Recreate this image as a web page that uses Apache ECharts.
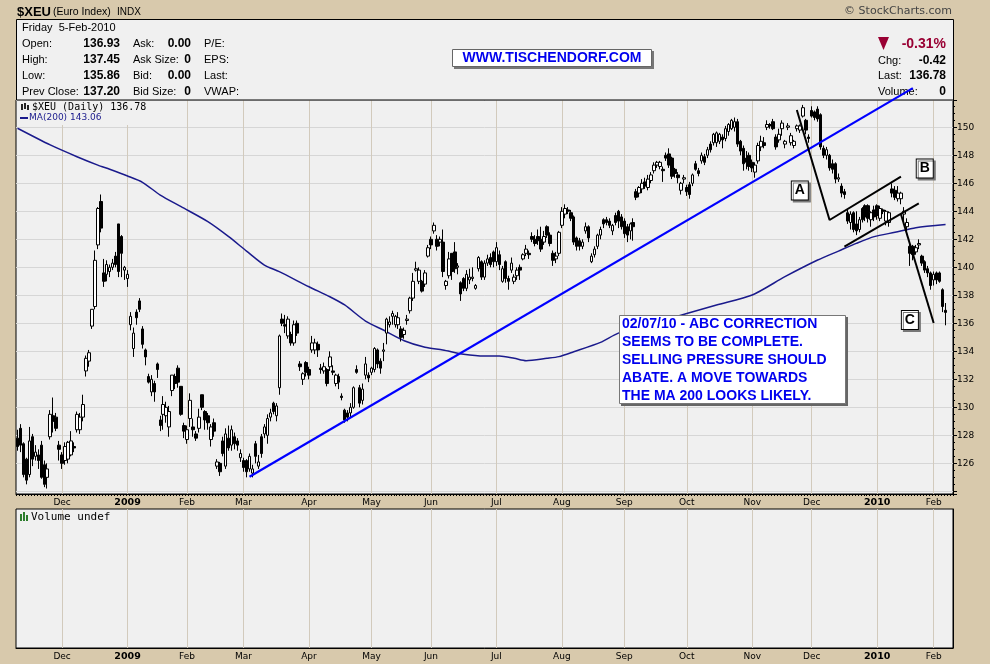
<!DOCTYPE html>
<html><head><meta charset="utf-8">
<script src="https://cdn.jsdelivr.net/npm/echarts@6/dist/echarts.min.js"></script>
<style>html,body{margin:0;padding:0;background:#D8C9AC;}#chart{width:990px;height:664px;}</style>
</head><body><div id="chart"></div>
<script>
// ---------- DATA ----------
const firstDay = '2008-11-07';
const lastDay = '2010-02-05';
const holidays = ['2008-11-27','2008-12-25','2009-01-01','2009-01-19','2009-02-16','2009-04-10','2009-05-25','2009-07-03','2009-09-07','2009-11-26','2009-12-25','2010-01-01','2010-01-18'];
const monthNames = ['Jan','Feb','Mar','Apr','May','Jun','Jul','Aug','Sep','Oct','Nov','Dec'];

// daily OHLC
const opens = [127.8,128.5,127.4,126.3,125.2,127.9,126.5,126.6,127.3,125.9,125.0,127.9,129.4,129.3,127.3,126.6,126.2,126.3,126.6,127.2,128.4,128.4,129.3,132.6,133.3,135.8,137.2,141.6,144.7,139.6,139.5,139.7,140.0,140.8,143.1,142.2,139.8,139.2,
135.9,134.2,136.8,137.6,135.6,134.1,132.2,131.1,131.7,133.1,129.1,129.5,129.4,128.6,131.2,132.2,132.8,131.5,128.7,127.7,129.2,128.6,128.1,128.5,130.9,129.7,129.4,127.7,128.9,125.8,126.0,127.6,125.8,127.8,127.3,127.9,127.6,126.4,126.2,126.2,
125.6,125.3,127.4,125.8,127.9,128.1,128.0,129.3,130.3,129.4,131.4,136.3,135.9,135.1,135.2,134.6,136.0,133.1,132.0,133.2,132.7,134.1,134.1,134.5,132.8,132.6,132.7,132.9,132.6,131.7,132.2,130.8,129.8,129.6,129.6,130.0,132.7,131.4,130.5,132.3,
132.3,132.5,132.7,134.1,133.3,134.0,135.3,135.9,136.5,135.9,135.9,135.6,135.2,136.2,136.9,137.8,139.8,139.0,139.0,138.8,140.8,142.0,142.6,142.0,141.8,141.8,138.7,139.4,141.0,141.1,140.0,138.9,139.2,138.5,139.1,139.2,138.5,139.9,140.4,
139.3,140.3,140.7,141.1,140.4,140.9,139.0,140.4,139.2,139.8,139.0,139.4,140.0,140.6,141.0,141.0,142.2,142.0,142.2,142.0,141.8,142.9,142.3,141.0,140.6,141.0,143.0,143.8,144.1,143.9,143.6,142.1,141.9,141.5,142.6,142.9,140.4,140.9,141.5,142.3,
143.4,143.4,143.3,142.6,143.7,144.0,143.6,143.3,142.9,142.6,143.2,145.4,145.3,145.6,146.1,145.7,146.2,146.9,147.3,147.2,147.0,148.0,148.1,147.8,147.0,146.6,145.5,146.3,145.7,145.9,146.0,147.4,146.9,147.6,147.9,148.0,148.8,148.9,148.9,149.0,
149.3,149.2,149.7,149.9,150.0,150.4,149.0,148.5,147.8,148.0,147.5,146.8,147.6,148.6,148.9,150.0,150.2,150.4,149.3,149.1,149.9,148.8,150.0,148.9,148.7,149.9,149.8,150.8,150.5,149.3,151.2,151.1,151.3,150.9,148.5,148.0,148.0,147.4,147.4,146.3,
145.8,145.4,143.9,143.2,143.9,143.1,142.7,144.2,144.4,144.4,143.4,144.1,144.4,143.5,144.1,143.3,143.2,145.6,145.5,144.9,144.9,143.8,142.9,141.5,141.5,141.1,141.6,140.8,140.4,139.9,139.6,139.1,139.6,139.6,138.4,136.93];
const highs = [128.4,128.8,127.5,126.4,128.6,128.1,127.3,127.0,127.6,126.2,126.0,129.8,130.7,129.6,127.6,126.8,127.5,127.6,128.3,127.5,129.7,129.6,130.9,133.7,134.1,137.0,141.2,144.3,145.2,140.6,140.5,140.2,140.6,141.1,143.1,142.3,140.1,139.8,
136.8,135.7,137.0,137.8,135.8,134.2,132.4,132.3,131.9,133.2,129.4,130.8,130.4,130.1,132.3,132.4,133.0,131.5,128.9,128.7,131.0,129.2,128.3,129.9,130.9,129.8,129.6,128.8,129.2,126.3,126.1,127.9,128.5,128.7,128.7,128.2,127.8,127.0,126.4,126.3,
126.7,125.9,127.6,126.6,128.1,128.8,129.5,129.9,130.4,130.3,135.2,136.7,136.6,136.5,135.4,136.2,136.2,133.3,132.5,133.3,132.9,135.1,134.9,134.7,133.1,133.2,132.8,134.0,133.0,132.4,132.4,131.0,129.9,129.8,130.3,131.5,133.0,131.6,131.7,133.6,
132.5,132.9,134.3,134.2,133.5,134.6,136.4,136.5,136.9,136.6,136.8,135.8,135.7,136.6,137.9,139.6,140.4,140.0,139.1,139.8,141.6,142.2,143.2,142.3,142.2,142.7,139.1,141.1,141.0,141.8,140.3,139.0,139.3,139.8,139.9,140.0,138.8,140.8,140.5,
140.5,140.9,141.0,141.2,141.8,141.2,140.1,140.5,139.4,140.7,139.5,140.0,140.2,141.0,141.6,141.2,142.5,142.3,142.7,142.9,142.6,143.0,142.5,141.2,141.1,142.6,144.3,144.5,144.3,144.1,143.7,142.2,142.1,142.0,143.2,143.0,141.0,141.5,142.4,142.9,
143.5,143.6,143.5,143.1,143.9,144.1,143.8,143.5,143.1,143.2,143.5,145.6,145.8,146.3,146.4,146.6,146.8,147.5,147.6,147.6,147.2,148.2,148.5,147.9,147.1,146.8,146.1,146.6,145.9,146.1,146.7,147.6,147.1,148.2,148.1,148.6,149.0,149.6,149.7,149.6,
149.5,150.1,150.3,150.6,150.7,150.6,149.1,148.7,148.3,148.2,147.7,147.5,148.9,149.4,149.3,150.5,150.3,150.6,149.5,149.9,150.5,149.1,150.3,149.6,149.1,150.2,150.2,151.6,150.6,149.5,151.5,151.2,151.5,151.0,148.7,148.6,148.1,147.7,147.5,146.7,
146.0,145.6,144.1,144.0,144.0,144.0,143.6,144.3,144.5,144.5,144.0,144.4,144.5,144.4,144.2,144.1,144.0,146.0,145.8,145.8,145.4,144.3,143.5,141.7,141.6,141.6,142.0,140.9,140.5,140.1,139.7,139.7,139.7,139.7,138.5,137.45];
const lows = [126.9,126.8,125.0,124.5,125.0,125.8,126.2,125.6,124.9,124.3,124.2,127.7,128.2,128.3,126.2,125.6,125.9,126.0,126.5,126.8,128.2,128.1,129.0,132.2,132.9,135.6,137.0,141.3,142.5,138.6,139.0,139.3,139.8,140.0,139.3,139.3,139.1,138.6,
135.5,133.6,135.9,136.8,134.2,133.0,131.7,130.8,130.4,132.1,128.3,128.4,128.9,127.9,130.8,131.3,131.4,129.4,127.8,127.4,128.6,127.9,127.6,128.2,129.8,128.4,128.4,127.2,127.9,125.6,125.1,126.5,125.6,126.9,126.9,127.0,126.9,126.1,125.4,125.0,
125.4,125.0,126.0,125.6,126.4,127.8,127.4,129.0,129.5,129.0,130.9,135.8,135.3,134.9,134.4,134.4,135.1,132.6,131.6,132.2,132.0,133.9,133.8,133.6,132.4,132.4,131.5,132.6,132.3,131.5,131.3,130.5,128.9,129.0,129.3,129.9,132.4,130.0,130.2,132.0,
131.8,132.3,132.5,132.8,132.4,133.3,134.5,135.7,135.9,135.7,135.6,134.7,134.9,135.9,136.7,137.6,139.7,138.8,138.2,138.6,140.7,141.3,142.4,141.2,141.5,139.3,138.4,139.2,139.1,139.6,139.5,137.6,138.3,138.3,138.8,139.0,138.4,139.7,139.1,
139.1,140.1,140.0,140.0,140.1,139.8,138.9,138.9,138.4,139.6,138.8,139.1,139.1,140.5,140.8,140.6,141.8,141.5,141.6,141.1,141.6,142.1,141.5,140.1,140.3,140.8,142.8,143.5,143.8,143.3,141.6,141.2,141.2,141.3,142.4,141.8,140.3,140.7,141.3,142.0,
142.8,143.0,142.8,142.3,143.0,142.8,142.7,142.1,141.8,142.0,141.9,144.8,145.0,145.3,145.6,145.5,146.0,146.7,147.1,147.0,146.1,147.6,147.1,146.3,146.4,146.0,145.2,146.0,145.1,144.9,145.8,146.9,146.5,147.4,147.3,147.8,148.2,148.7,148.6,148.8,
148.5,149.0,149.4,149.8,149.7,148.6,148.0,146.9,147.0,146.9,146.8,146.4,147.4,148.3,148.5,149.8,149.9,149.8,148.4,148.9,149.4,148.5,149.8,148.7,148.5,149.7,149.6,150.7,149.5,148.9,150.7,150.5,150.4,148.4,147.8,147.7,146.9,146.7,146.0,146.1,
145.0,144.9,143.1,142.7,142.5,142.3,142.5,143.2,143.3,143.2,142.9,143.3,143.4,143.3,143.8,143.0,142.9,145.0,144.8,144.7,144.5,143.3,142.6,140.1,140.5,140.9,141.3,140.1,139.6,139.3,138.4,138.7,138.8,138.9,136.8,135.86];
const closes = [127.2,127.3,125.2,124.8,127.6,126.3,126.8,126.2,125.0,124.5,125.6,129.5,129.0,128.5,127.0,126.0,127.2,127.5,127.6,127.1,129.5,129.3,130.2,133.5,133.9,137.0,140.5,144.2,142.8,139.0,140.2,140.0,140.3,140.2,139.7,141.0,140.0,139.5,
136.5,135.3,136.4,137.0,134.5,133.6,131.8,132.0,131.1,132.7,128.7,130.2,130.0,129.7,132.3,131.7,131.8,129.5,128.3,128.4,130.5,128.4,127.8,129.3,130.0,129.1,128.9,128.6,128.3,126.1,125.4,126.7,128.1,127.1,128.4,127.4,127.3,126.7,125.7,125.4,
126.5,125.6,126.5,126.1,126.7,128.6,129.2,129.6,129.7,130.1,135.1,136.0,135.8,136.3,134.6,135.9,135.3,132.9,132.4,132.5,132.3,134.6,134.6,134.1,132.7,132.9,131.7,133.6,132.5,132.3,131.8,130.7,129.1,129.3,130.0,131.4,132.5,130.3,131.3,133.1,
132.1,132.8,134.2,133.1,132.8,134.1,136.3,136.1,136.7,136.5,136.4,135.0,135.5,136.3,137.8,139.0,139.9,139.8,138.3,139.6,141.4,141.6,143.0,141.5,142.0,139.7,139.0,140.6,139.7,139.9,140.1,138.1,138.5,139.5,139.3,139.3,138.7,140.7,139.3,
140.3,140.6,140.2,140.4,141.4,140.2,139.9,139.2,139.0,140.3,139.3,139.8,139.8,140.9,141.3,140.9,142.0,141.7,141.9,141.3,142.2,142.3,141.7,140.5,140.8,142.5,144.0,144.2,144.0,143.5,141.8,141.5,141.5,141.8,142.9,142.1,140.8,141.3,142.3,142.7,
143.1,143.2,143.0,143.0,143.2,143.3,142.9,142.4,142.3,143.1,142.9,145.0,145.7,146.0,145.8,146.3,146.6,147.3,147.5,147.5,146.9,147.8,147.3,146.5,146.7,146.4,146.0,146.4,145.4,145.2,146.6,147.0,146.7,148.0,147.5,148.4,148.4,149.5,149.6,149.5,
149.1,149.9,150.2,150.5,150.4,148.8,148.3,147.4,147.5,147.2,147.1,147.3,148.7,149.0,148.7,150.2,150.1,149.9,148.6,149.5,150.3,149.0,150.1,149.4,149.0,150.1,150.1,151.4,149.8,149.2,150.8,150.7,150.6,148.6,148.0,148.4,147.1,147.0,146.3,146.4,
145.3,145.2,143.3,143.8,142.7,142.6,143.4,143.4,143.6,143.5,143.9,143.6,143.7,144.2,144.0,144.0,143.9,145.3,145.0,145.3,145.3,144.0,143.2,141.0,140.9,141.4,141.7,140.3,139.8,139.6,138.7,139.5,139.1,139.0,137.2,136.78];

// MA(200): [trading-day index, value]
const ma200 = [[0,149.93],[11,148.74],[20,147.9],[27,147.3],[31,147.0],[37,146.52],[42,146.07],[48,145.16],[55,144.33],[64,143.26],[71,142.19],[77,141.16],[83,140.16],[88,139.69],[98,138.61],[105,137.9],[110,137.31],[117,136.16],[123,135.52],[130,134.76],[137,134.29],[143,134.09],[150,133.79],[157,133.66],[162,133.66],[167,133.5],[171,133.33],[178,133.5],[182,133.62],[187,133.97],[196,134.64],[202,135.3],[212,135.9],[225,136.7],[235,137.31],[247,138.02],[258,139.33],[269,140.52],[276,141.16],[282,141.71],[288,142.19],[295,142.5],[302,142.83],[312,143.06]];

// hand-drawn annotation lines [day index, price]
const trendLine = [[78,125.04],[301,152.8]];
const lineAB = [[262,151.24],[273,143.38],[297,146.47]];
const lineLower = [[278,141.47],[303,144.57]];
const lineC = [[297,143.79],[308,136.02]];
const waveLabels = [['A',263,145.49],['B',305,147.06],['C',300,136.24]];

const yMin = 123.81, yMax = 151.95;
const quote = {day:'Friday  5-Feb-2010', open:'136.93', high:'137.45', low:'135.86', prev:'137.20', ask:'0.00', askSize:'0', bid:'0.00', bidSize:'0', pct:'-0.31%', chg:'-0.42', last:'136.78', volume:'0', ma:'143.06'};
const noteLines = ['02/07/10 - ABC CORRECTION','SEEMS TO BE COMPLETE.','SELLING PRESSURE SHOULD','ABATE. A MOVE TOWARDS','THE MA 200 LOOKS LIKELY.'];

// ---------- BUILD ----------
function buildDates(){
  const out=[]; let t=Date.parse(firstDay+'T00:00:00Z'); const end=Date.parse(lastDay+'T00:00:00Z');
  while(t<=end){ const d=new Date(t); const wd=d.getUTCDay(); const s=d.toISOString().slice(0,10);
    if(wd!==0&&wd!==6&&holidays.indexOf(s)<0) out.push(s); t+=86400000; }
  return out;
}
const dates = buildDates();
const cats = dates.concat(['pad1','pad2']);
const monthStart = cats.map((d,i)=> i>0 && i<dates.length && d.slice(0,7)!==cats[i-1].slice(0,7));
const candleData = dates.map((d,i)=>[opens[i],closes[i],lows[i],highs[i]]);

const LBL = '"DejaVu Sans", Verdana, sans-serif';
const ARIAL = '"Liberation Sans", Arial, sans-serif';
const panel = '#F0F0F0';

function xAxisFor(grid){
  return {
    type:'category', gridIndex:grid, data:cats, boundaryGap:true,
    axisLine:{show:true,lineStyle:{color:'#000',width:1}},
    axisTick:{show:grid===0, interval:0, length:2, lineStyle:{color:'#000'}},
    axisLabel:{show:true, interval:(i)=>monthStart[i], margin:4, fontFamily:LBL, fontSize:9, color:'#000',
      formatter:(v)=>{ const m=+v.slice(5,7); return m===1 ? '{y|'+v.slice(0,4)+'}' : monthNames[m-1]; },
      rich:{y:{fontFamily:LBL,fontSize:9.5,fontWeight:'bold',color:'#000'}}},
    splitLine:{show:true, interval:(i)=>monthStart[i], alignWithLabel:true, lineStyle:{color:'#D2CABC',width:1}}
  };
}

const T = (x,y,text,font,fill,align,z)=>({type:'text', x:x, y:y, z:z||5, style:{text:text, font:font, fill:fill||'#000', align:align||'left', verticalAlign:'middle'}});

const graphics = [
  {type:'rect', z:1, shape:{x:16.5,y:19.5,width:937,height:80.5}, style:{fill:panel, stroke:'#000', lineWidth:1}},
  T(17,12,'$XEU','bold 13px '+ARIAL),
  T(53,12,'(Euro Index)','10.5px '+ARIAL),
  T(117,12,'INDX','10px '+ARIAL),
  T(952,11,'\u00A9 StockCharts.com','11px '+LBL,'#444','right'),
  T(22,28,quote.day,'11px '+ARIAL),
  T(22,44,'Open:','11px '+ARIAL), T(120,44,quote.open,'bold 12px '+ARIAL,'#000','right'),
  T(22,60,'High:','11px '+ARIAL), T(120,60,quote.high,'bold 12px '+ARIAL,'#000','right'),
  T(22,76,'Low:','11px '+ARIAL), T(120,76,quote.low,'bold 12px '+ARIAL,'#000','right'),
  T(22,92,'Prev Close:','11px '+ARIAL), T(120,92,quote.prev,'bold 12px '+ARIAL,'#000','right'),
  T(133,44,'Ask:','11px '+ARIAL), T(191,44,quote.ask,'bold 12px '+ARIAL,'#000','right'),
  T(133,60,'Ask Size:','11px '+ARIAL), T(191,60,quote.askSize,'bold 12px '+ARIAL,'#000','right'),
  T(133,76,'Bid:','11px '+ARIAL), T(191,76,quote.bid,'bold 12px '+ARIAL,'#000','right'),
  T(133,92,'Bid Size:','11px '+ARIAL), T(191,92,quote.bidSize,'bold 12px '+ARIAL,'#000','right'),
  T(204,44,'P/E:','11px '+ARIAL), T(204,60,'EPS:','11px '+ARIAL), T(204,76,'Last:','11px '+ARIAL), T(204,92,'VWAP:','11px '+ARIAL),
  {type:'polygon', z:5, shape:{points:[[878,37],[889,37],[883.5,50]]}, style:{fill:'#990033'}},
  T(946,44,quote.pct,'bold 14px '+ARIAL,'#990033','right'),
  T(878,61,'Chg:','11px '+ARIAL), T(946,61,quote.chg,'bold 12px '+ARIAL,'#000','right'),
  T(878,76,'Last:','11px '+ARIAL), T(946,76,quote.last,'bold 12px '+ARIAL,'#000','right'),
  T(878,92,'Volume:','11px '+ARIAL), T(946,92,quote.volume,'bold 12px '+ARIAL,'#000','right'),
  // website box
  {type:'rect', z:5, shape:{x:454,y:51,width:200,height:18}, style:{fill:'#777'}},
  {type:'rect', z:5, shape:{x:452.5,y:49.5,width:199,height:17}, style:{fill:'#fff', stroke:'#666', lineWidth:1}},
  T(552,58.5,'WWW.TISCHENDORF.COM','bold 14px '+ARIAL,'#0000EE','center',6),
  // legend in price panel
  {type:'rect', z:5, shape:{x:17,y:101,width:128,height:24}, style:{fill:panel}},
  {type:'rect', z:6, shape:{x:21,y:104,width:2,height:6}, style:{fill:'#222'}},
  {type:'rect', z:6, shape:{x:24,y:103,width:2,height:6}, style:{fill:'#222'}},
  {type:'rect', z:6, shape:{x:27,y:105,width:2,height:5}, style:{fill:'#222'}},
  T(32,107,'$XEU (Daily) '+quote.last,'10px "DejaVu Sans Mono", monospace','#000','left',6),
  {type:'rect', z:6, shape:{x:20,y:117,width:8,height:2}, style:{fill:'#1a1a8c'}},
  T(29,118,'MA(200) '+quote.ma,'9px '+LBL,'#1a1a8c','left',6),
  // volume panel legend
  {type:'rect', z:6, shape:{x:20,y:514,width:2,height:7}, style:{fill:'#2d7d2d'}},
  {type:'rect', z:6, shape:{x:23,y:512,width:2,height:9}, style:{fill:'#2d7d2d'}},
  {type:'rect', z:6, shape:{x:26,y:515,width:2,height:6}, style:{fill:'#2d7d2d'}},
  T(31,517,'Volume undef','11px "DejaVu Sans Mono", monospace','#000','left',6),
  // note box
  {type:'rect', z:50, shape:{x:621,y:317,width:227,height:89}, style:{fill:'#666'}},
  {type:'rect', z:50, shape:{x:619.5,y:315.5,width:226,height:88}, style:{fill:'#fff', stroke:'#777', lineWidth:1}}
].concat(noteLines.map((s,k)=>T(622,324.5+k*17.9,s,'bold 14px '+ARIAL,'#0000EE','left',51)));

const lineStyleBlack = {color:'#000', width:2};
const option = {
  animation:false,
  backgroundColor:'#D8C9AC',
  grid:[
    {left:16, top:100, width:937, height:394, show:true, backgroundColor:panel, borderColor:'#000', borderWidth:1},
    {left:16, top:509, width:937, height:139, show:true, backgroundColor:panel, borderColor:'#000', borderWidth:1}
  ],
  xAxis:[xAxisFor(0), xAxisFor(1)],
  yAxis:[
    {type:'value', gridIndex:0, position:'right', min:yMin, max:yMax, splitNumber:14, scale:true,
     axisLine:{show:true,lineStyle:{color:'#000'}},
     axisTick:{show:true,length:4,lineStyle:{color:'#000'}},
     minorTick:{show:true,splitNumber:4,length:2,lineStyle:{color:'#000'}},
     axisLabel:{margin:4, fontFamily:LBL, fontSize:9, color:'#000', showMinLabel:false, showMaxLabel:false,
       formatter:(v)=> (Math.abs(v%2)<1e-6 && v>=125 && v<=151) ? String(v) : ''},
     splitLine:{show:true, lineStyle:{color:'#D6D6D6',width:1}}},
    {type:'value', gridIndex:1, position:'right', min:0, max:1,
     axisLine:{show:true,lineStyle:{color:'#000'}}, axisTick:{show:false}, axisLabel:{show:false}, splitLine:{show:false}}
  ],
  graphic:{elements:graphics},
  series:[
    {type:'line', name:'MA(200)', xAxisIndex:0, yAxisIndex:0, data:ma200, symbol:'none', smooth:0.25, z:3,
     lineStyle:{color:'#1a1a8c', width:1.5}},
    {type:'candlestick', name:'$XEU', xAxisIndex:0, yAxisIndex:0, data:candleData, barWidth:3, z:4,
     itemStyle:{color:'#FFFFFF', color0:'#000000', borderColor:'#000000', borderColor0:'#000000', borderWidth:1}},
    {type:'line', name:'trend', xAxisIndex:0, yAxisIndex:0, data:trendLine, symbol:'none', clip:false, z:8,
     lineStyle:{color:'#0000FF', width:2.2}},
    {type:'line', name:'AB', xAxisIndex:0, yAxisIndex:0, data:lineAB, symbol:'none', z:8, lineStyle:lineStyleBlack,
     markPoint:{symbol:'rect', symbolSize:[17,19], z:9,
       itemStyle:{color:'#fff', borderColor:'#000', borderWidth:1, shadowColor:'#777', shadowOffsetX:2, shadowOffsetY:2, shadowBlur:0},
       label:{show:true, position:'inside', formatter:(p)=>p.name, color:'#000', fontFamily:ARIAL, fontWeight:'bold', fontSize:14},
       data:waveLabels.map(w=>({name:w[0], coord:[w[1],w[2]]}))}},
    {type:'line', name:'lower', xAxisIndex:0, yAxisIndex:0, data:lineLower, symbol:'none', z:8, lineStyle:lineStyleBlack},
    {type:'line', name:'C', xAxisIndex:0, yAxisIndex:0, data:lineC, symbol:'none', z:8, lineStyle:lineStyleBlack},
    {type:'bar', name:'Volume', xAxisIndex:1, yAxisIndex:1, data:[]}
  ]
};
const chart = echarts.init(document.getElementById('chart'), null, {renderer:'canvas'});
chart.setOption(option);
</script></body></html>
